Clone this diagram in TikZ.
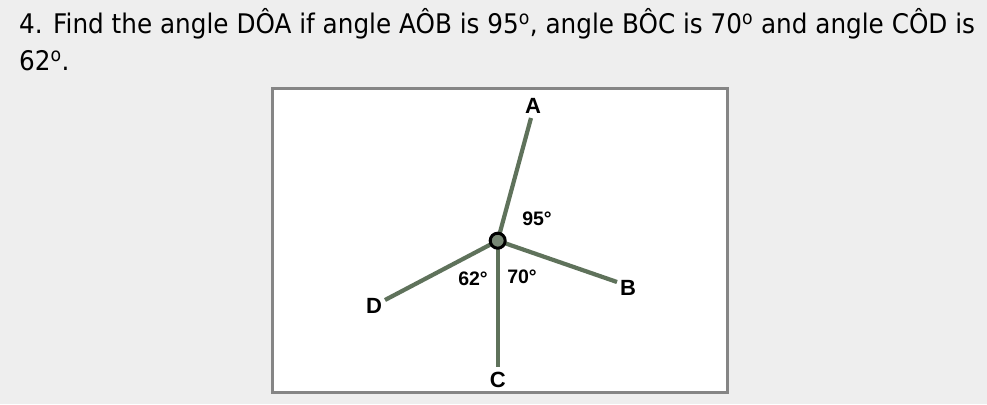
\documentclass[tikz,border=0pt]{standalone}
\usepackage{fontspec}
\setmainfont{DejaVu Sans}
\newfontfamily\titlefont[FakeStretch=0.915]{DejaVu Sans}
\newfontfamily\labelfont{Liberation Sans}
\usepackage{tikz}

\definecolor{bggray}{HTML}{EEEEEE}
\definecolor{framegray}{HTML}{858585}
\definecolor{raygreen}{HTML}{5F725B}

\tikzset{
  ray/.style={draw=raygreen, line width=4.2pt},
  ptlabel/.style={font=\labelfont\bfseries\fontsize{22}{24}\selectfont, inner sep=0pt},
  anglabel/.style={font=\labelfont\bfseries\fontsize{19.5}{22}\selectfont, inner sep=0pt}
}

\begin{document}
\begin{tikzpicture}[x=1pt,y=-1pt]
    \useasboundingbox[fill=bggray] (0,0) rectangle (987,404);
    \node[anchor=north west, align=left, inner sep=0pt, font=\titlefont\fontsize{27}{37}\selectfont] (title) at (19,8)
      {4. Find the angle DÔA if angle AÔB is 95\textsuperscript{o}, angle BÔC is 70\textsuperscript{o} and angle CÔD is\\62\textsuperscript{o}.};
    \draw[framegray, line width=3pt, fill=white] (272,88) rectangle (727,392);

    \coordinate (O) at (497.7,240.7);
    \coordinate (A) at (531,118);
    \coordinate (B) at (617,282);
    \coordinate (C) at (497.7,367);
    \coordinate (D) at (385,300);

    \draw[ray] (O) -- (A);
    \draw[ray] (O) -- (B);
    \draw[ray] (O) -- (C);
    \draw[ray] (O) -- (D);
    \node[draw=black, line width=3pt, fill=raygreen!85, circle, minimum size=15pt, inner sep=0pt] (centre) at (O) {};

    \node[ptlabel] (labA) at (533,106) {A};
    \node[ptlabel] (labB) at (628,288) {B};
    \node[ptlabel] (labC) at (497.7,380) {C};
    \node[ptlabel] (labD) at (374,306) {D};
    \node[anglabel] (aob) at (537,219) {95°};
    \node[anglabel] (cod) at (473,279) {62°};
    \node[anglabel] (boc) at (522,277) {70°};
\end{tikzpicture}
\end{document}
